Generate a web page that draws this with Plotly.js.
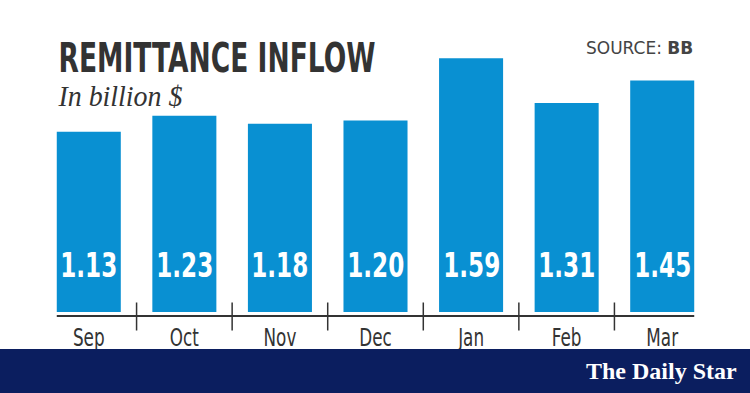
<!DOCTYPE html>
<html><head><meta charset="utf-8">
<script src="https://cdn.plot.ly/plotly-3.0.1.min.js"></script>
<style>html,body{margin:0;padding:0;background:#fff}#chart{width:750px;height:393px}</style>
</head><body><div id="chart"></div>
<script>
const months = ["Sep","Oct","Nov","Dec","Jan","Feb","Mar"];
const inflow = [1.13,1.23,1.18,1.20,1.59,1.31,1.45];
const valueLabels = ["1.13","1.23","1.18","1.20","1.59","1.31","1.45"];
const titleText = "REMITTANCE INFLOW";
const subtitleText = "In billion $";
const sourceText = "SOURCE: <b>BB</b>";
const logoText = "The Daily Star";

const sans = '"DejaVu Sans", "Liberation Sans", sans-serif';
const H = 276; // plot height px
const py = p => (316 - p) / H; // pixel y -> paper y
const px = p => (p - 41) / 669;

const shapes = [];
shapes.push({type:'rect', xref:'paper', yref:'paper', x0:px(0), x1:px(750), y0:py(349), y1:py(394),
  fillcolor:'#0b1e5f', line:{width:0}, layer:'above'});
shapes.push({type:'line', xref:'x', yref:'paper', x0:-0.335, x1:months.length-1+0.335, y0:0, y1:0,
  line:{color:'#333333', width:2}});
for (let i = 0; i < months.length - 1; i++) {
  shapes.push({type:'line', xref:'x', yref:'paper', x0:i+0.5, x1:i+0.5, y0:py(302.5), y1:py(330.5),
    line:{color:'#333333', width:1.5}});
}

// squeeze targets (px width) for condensed look; null = no squeeze
const squeezeW = [];
const annotations = months.map((m,i)=>{
  squeezeW.push(57);
  return {x:m, y:0.294, xref:'x', yref:'y', text:valueLabels[i], showarrow:false,
    xanchor:'center', yanchor:'middle',
    font:{family:sans, size:33, color:'#ffffff', weight:700}};
});
annotations.push({xref:'paper', yref:'paper', x:px(216.5), y:py(58), xanchor:'center', yanchor:'middle',
  text:titleText, showarrow:false, font:{family:sans, size:41, color:'#333333', weight:700}});
squeezeW.push(317);
annotations.push({xref:'paper', yref:'paper', x:px(120), y:py(96), xanchor:'center', yanchor:'middle',
  text:subtitleText, showarrow:false, font:{family:'"Liberation Serif", "DejaVu Serif", serif', size:29, style:'italic', color:'#333333'}});
squeezeW.push(124);
annotations.push({xref:'paper', yref:'paper', x:px(695), y:py(48), xanchor:'right', yanchor:'middle',
  text:sourceText, showarrow:false, font:{family:sans, size:17, color:'#444444'}});
squeezeW.push(null);
annotations.push({xref:'paper', yref:'paper', x:px(661), y:py(371), xanchor:'center', yanchor:'middle',
  text:logoText, showarrow:false, font:{family:'"Liberation Serif", "DejaVu Serif", serif', size:24, color:'#ffffff', weight:700}});
squeezeW.push(null);

const data = [{
  type:'bar', x:months, y:inflow,
  marker:{color:'#0990d2', line:{width:0}},
  hoverinfo:'skip'
}];

const layout = {
  width:750, height:393,
  margin:{l:41, r:40, t:40, b:77, pad:0},
  paper_bgcolor:'#ffffff', plot_bgcolor:'#ffffff',
  showlegend:false,
  bargap:0.33,
  xaxis:{type:'category', range:[-0.5, 6.5], showgrid:false, zeroline:false, showline:false,
    ticks:'', ticklabelstandoff:5,
    tickfont:{family:sans, size:24, color:'#333333'}},
  yaxis:{range:[-0.025, 1.704], visible:false, showgrid:false, zeroline:false},
  shapes:shapes,
  annotations:annotations
};
Plotly.newPlot('chart', data, layout, {displayModeBar:false, staticPlot:true}).then(gd=>{
  const anns = gd.querySelectorAll('text.annotation-text');
  anns.forEach((el,i)=>{
    const w = squeezeW[i];
    if (w) { el.setAttribute('textLength', w); el.setAttribute('lengthAdjust','spacingAndGlyphs'); }
  });
  gd.querySelectorAll('.xtick text').forEach(el=>{
    const w = el.getComputedTextLength();
    el.setAttribute('textLength', (w*0.7).toFixed(1)); el.setAttribute('lengthAdjust','spacingAndGlyphs');
  });
});
</script>
</body></html>
